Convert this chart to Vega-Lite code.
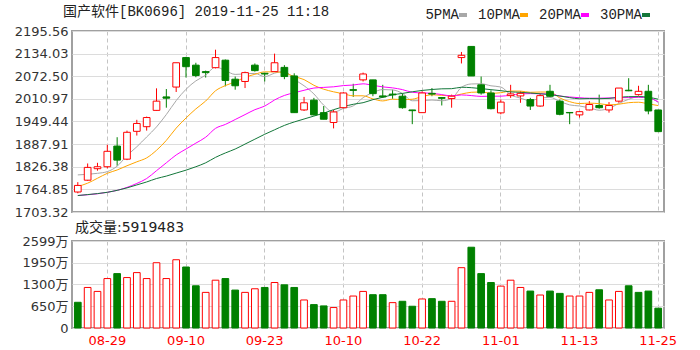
{
"$schema":"https://vega.github.io/schema/vega-lite/v6.json",
"padding":{"left":5,"top":4,"right":30,"bottom":4},
"background":"#ffffff",
"config":{"view":{"stroke":"#a0a0a0","strokeWidth":2},"axis":{"labelFont":"DejaVu Sans","labelFontSize":13,"labelColor":"#333333","ticks":false,"domain":false,"title":null,"gridColor":"#dcdcdc","labelOverlap":false},"axisY":{"labelOverlap":false},"title":{"font":"Liberation Mono, Noto Sans CJK SC","fontSize":14,"fontWeight":"normal","color":"#222222","anchor":"start","frame":"group"}},
"datasets":{"k":[
{"d":"08-26","o":1757.7,"h":1784.5,"l":1754.2,"c":1775.6,"v":768,"chg":"down","5PMA":1804.2,"10PMA":1772.9,"20PMA":1748.1,"30PMA":1748.1},
{"d":"08-27","o":1789.8,"h":1835.3,"l":1788.2,"c":1824.6,"v":1211,"chg":"up","5PMA":1805.8,"10PMA":1781.7,"20PMA":1750.2,"30PMA":1750.7},
{"d":"08-28","o":1821.1,"h":1837.1,"l":1815.7,"c":1826.4,"v":1093,"chg":"up","5PMA":1808.5,"10PMA":1795.1,"20PMA":1752.9,"30PMA":1753.4},
{"d":"08-29","o":1826.4,"h":1886.1,"l":1821.9,"c":1868.4,"v":1477,"chg":"up","5PMA":1813.1,"10PMA":1808.5,"20PMA":1756.9,"30PMA":1756.9},
{"d":"08-30","o":1882.6,"h":1906.7,"l":1829.1,"c":1844.4,"v":1625,"chg":"down","5PMA":1827.9,"10PMA":1817.6,"20PMA":1762.2,"30PMA":1762.2},
{"d":"09-02","o":1847.0,"h":1924.6,"l":1844.4,"c":1920.1,"v":1507,"chg":"up","5PMA":1856.8,"10PMA":1829.1,"20PMA":1770.3,"30PMA":1768.9},
{"d":"09-03","o":1922.7,"h":1954.0,"l":1911.2,"c":1944.1,"v":1655,"chg":"up","5PMA":1880.7,"10PMA":1839.8,"20PMA":1781.0,"30PMA":1777.0},
{"d":"09-04","o":1935.3,"h":1962.8,"l":1924.6,"c":1960.2,"v":1477,"chg":"up","5PMA":1907.4,"10PMA":1850.5,"20PMA":1794.3,"30PMA":1785.0},
{"d":"09-05","o":1979.7,"h":2039.6,"l":1979.0,"c":2004.8,"v":1950,"chg":"up","5PMA":1934.7,"10PMA":1871.1,"20PMA":1815.7,"30PMA":1794.3},
{"d":"09-06","o":2016.3,"h":2037.7,"l":1987.0,"c":2012.8,"v":1477,"chg":"up","5PMA":1968.4,"10PMA":1898.1,"20PMA":1837.1,"30PMA":1801.0},
{"d":"09-09","o":2043.1,"h":2109.2,"l":2029.7,"c":2109.2,"v":2039,"chg":"up","5PMA":2006.2,"10PMA":1931.5,"20PMA":1858.5,"30PMA":1809.1},
{"d":"09-10","o":2123.3,"h":2125.2,"l":2069.0,"c":2098.5,"v":1822,"chg":"down","5PMA":2037.1,"10PMA":1958.9,"20PMA":1874.6,"30PMA":1817.1},
{"d":"09-11","o":2102.7,"h":2109.2,"l":2069.8,"c":2074.4,"v":1261,"chg":"down","5PMA":2059.9,"10PMA":1983.7,"20PMA":1890.6,"30PMA":1826.4},
{"d":"09-12","o":2085.1,"h":2087.8,"l":2069.0,"c":2082.4,"v":1064,"chg":"up","5PMA":2075.5,"10PMA":2005.1,"20PMA":1906.7,"30PMA":1837.1},
{"d":"09-16","o":2095.8,"h":2144.7,"l":2093.9,"c":2123.3,"v":1428,"chg":"up","5PMA":2097.6,"10PMA":2033.0,"20PMA":1930.8,"30PMA":1851.9},
{"d":"09-17","o":2116.2,"h":2118.0,"l":2045.0,"c":2061.0,"v":1477,"chg":"down","5PMA":2087.9,"10PMA":2047.1,"20PMA":1941.5,"30PMA":1863.9},
{"d":"09-18","o":2064.5,"h":2071.7,"l":2035.9,"c":2046.6,"v":1133,"chg":"down","5PMA":2077.5,"10PMA":2057.3,"20PMA":1954.8,"30PMA":1874.6},
{"d":"09-19","o":2058.3,"h":2085.1,"l":2040.4,"c":2082.4,"v":1064,"chg":"up","5PMA":2079.1,"10PMA":2069.5,"20PMA":1968.2,"30PMA":1888.0},
{"d":"09-20","o":2102.7,"h":2107.3,"l":2085.1,"c":2087.8,"v":1172,"chg":"up","5PMA":2080.2,"10PMA":2077.8,"20PMA":1981.6,"30PMA":1901.3},
{"d":"09-23","o":2080.5,"h":2082.4,"l":2058.3,"c":2078.6,"v":1211,"chg":"down","5PMA":2071.3,"10PMA":2084.4,"20PMA":1991.3,"30PMA":1914.7},
{"d":"09-24","o":2085.1,"h":2134.0,"l":2085.0,"c":2109.2,"v":1359,"chg":"up","5PMA":2080.9,"10PMA":2084.4,"20PMA":2008.0,"30PMA":1926.8},
{"d":"09-25","o":2096.6,"h":2102.7,"l":2064.5,"c":2071.7,"v":1290,"chg":"down","5PMA":2085.9,"10PMA":2081.7,"20PMA":2020.3,"30PMA":1938.8},
{"d":"09-26","o":2073.3,"h":2080.5,"l":1973.5,"c":1973.5,"v":1211,"chg":"down","5PMA":2064.2,"10PMA":2071.7,"20PMA":2027.7,"30PMA":1948.2},
{"d":"09-27","o":1980.8,"h":2016.3,"l":1978.1,"c":2000.3,"v":837,"chg":"up","5PMA":2046.7,"10PMA":2063.4,"20PMA":2034.3,"30PMA":1956.2},
{"d":"09-30","o":2007.5,"h":2013.7,"l":1966.3,"c":1967.4,"v":699,"chg":"down","5PMA":2024.4,"10PMA":2047.9,"20PMA":2040.4,"30PMA":1964.2},
{"d":"10-08","o":1973.5,"h":1991.5,"l":1955.6,"c":1955.6,"v":660,"chg":"down","5PMA":1993.7,"10PMA":2037.3,"20PMA":2042.2,"30PMA":1972.2},
{"d":"10-09","o":1946.8,"h":1980.8,"l":1930.7,"c":1975.4,"v":611,"chg":"up","5PMA":1974.4,"10PMA":2030.2,"20PMA":2043.8,"30PMA":1981.6},
{"d":"10-10","o":1987.0,"h":2029.0,"l":1984.3,"c":2027.0,"v":837,"chg":"up","5PMA":1985.1,"10PMA":2024.7,"20PMA":2047.1,"30PMA":1989.6},
{"d":"10-11","o":2036.0,"h":2052.0,"l":2016.3,"c":2034.2,"v":955,"chg":"up","5PMA":1991.9,"10PMA":2019.3,"20PMA":2048.6,"30PMA":1996.3},
{"d":"10-14","o":2062.6,"h":2082.4,"l":2058.3,"c":2078.7,"v":1093,"chg":"up","5PMA":2014.2,"10PMA":2019.3,"20PMA":2051.9,"30PMA":2000.6},
{"d":"10-15","o":2062.6,"h":2062.6,"l":2018.2,"c":2025.2,"v":995,"chg":"down","5PMA":2028.1,"10PMA":2010.9,"20PMA":2047.7,"30PMA":2008.9},
{"d":"10-16","o":2019.0,"h":2049.2,"l":2013.7,"c":2016.3,"v":995,"chg":"down","5PMA":2036.3,"10PMA":2005.4,"20PMA":2043.6,"30PMA":2015.3},
{"d":"10-17","o":2024.0,"h":2036.0,"l":2011.0,"c":2022.0,"v":758,"chg":"up","5PMA":2035.3,"10PMA":2010.2,"20PMA":2040.9,"30PMA":2021.9},
{"d":"10-18","o":2018.2,"h":2027.0,"l":1984.3,"c":1987.0,"v":798,"chg":"down","5PMA":2025.8,"10PMA":2008.9,"20PMA":2036.2,"30PMA":2025.8},
{"d":"10-21","o":1980.8,"h":1981.0,"l":1942.2,"c":1978.9,"v":650,"chg":"down","5PMA":2005.9,"10PMA":2010.0,"20PMA":2028.9,"30PMA":2030.3},
{"d":"10-22","o":1973.5,"h":2031.6,"l":1973.5,"c":2027.0,"v":867,"chg":"up","5PMA":2006.2,"10PMA":2017.2,"20PMA":2027.2,"30PMA":2033.9},
{"d":"10-23","o":2026.0,"h":2040.4,"l":2018.2,"c":2024.0,"v":877,"chg":"down","5PMA":2007.8,"10PMA":2022.0,"20PMA":2026.1,"30PMA":2036.5},
{"d":"10-24","o":2014.5,"h":2014.5,"l":1993.0,"c":2012.5,"v":798,"chg":"down","5PMA":2005.9,"10PMA":2020.6,"20PMA":2022.6,"30PMA":2038.3},
{"d":"10-25","o":2011.8,"h":2022.5,"l":1987.0,"c":2018.2,"v":798,"chg":"up","5PMA":2012.1,"10PMA":2019.0,"20PMA":2019.1,"30PMA":2038.7},
{"d":"10-28","o":2123.3,"h":2138.6,"l":2107.3,"c":2129.5,"v":1802,"chg":"up","5PMA":2042.2,"10PMA":2024.1,"20PMA":2021.7,"30PMA":2042.6},
{"d":"10-29","o":2153.6,"h":2153.6,"l":2073.3,"c":2073.3,"v":2413,"chg":"down","5PMA":2051.5,"10PMA":2028.9,"20PMA":2019.9,"30PMA":2041.4},
{"d":"10-30","o":2049.2,"h":2071.7,"l":2022.5,"c":2027.0,"v":1625,"chg":"down","5PMA":2052.1,"10PMA":2029.9,"20PMA":2017.7,"30PMA":2039.0},
{"d":"10-31","o":2027.0,"h":2034.2,"l":1982.4,"c":1984.3,"v":1359,"chg":"down","5PMA":2046.5,"10PMA":2026.2,"20PMA":2018.2,"30PMA":2036.0},
{"d":"11-01","o":1972.9,"h":2009.1,"l":1969.0,"c":2002.2,"v":1251,"chg":"up","5PMA":2043.3,"10PMA":2027.7,"20PMA":2018.3,"30PMA":2033.3},
{"d":"11-04","o":2019.8,"h":2049.2,"l":2013.7,"c":2024.4,"v":1428,"chg":"up","5PMA":2022.2,"10PMA":2032.2,"20PMA":2021.1,"30PMA":2030.0},
{"d":"11-05","o":2019.0,"h":2031.6,"l":2000.3,"c":2026.0,"v":1211,"chg":"up","5PMA":2013.0,"10PMA":2032.1,"20PMA":2024.5,"30PMA":2028.8},
{"d":"11-06","o":2009.1,"h":2013.7,"l":1980.8,"c":1991.5,"v":1103,"chg":"down","5PMA":2006.0,"10PMA":2028.8,"20PMA":2025.3,"30PMA":2026.9},
{"d":"11-07","o":1991.5,"h":2025.2,"l":1989.6,"c":2019.8,"v":985,"chg":"up","5PMA":2013.0,"10PMA":2029.6,"20PMA":2024.9,"30PMA":2024.8},
{"d":"11-08","o":2031.6,"h":2049.2,"l":2016.3,"c":2018.0,"v":1103,"chg":"down","5PMA":2015.0,"10PMA":2029.5,"20PMA":2024.2,"30PMA":2022.6},
{"d":"11-11","o":2004.8,"h":2009.1,"l":1966.3,"c":1969.0,"v":1034,"chg":"down","5PMA":2004.0,"10PMA":2013.4,"20PMA":2018.7,"30PMA":2018.9},
{"d":"11-12","o":1974.0,"h":1974.5,"l":1942.2,"c":1973.0,"v":955,"chg":"up","5PMA":1994.6,"10PMA":2003.4,"20PMA":2016.1,"30PMA":2014.4},
{"d":"11-13","o":1967.4,"h":1978.1,"l":1960.2,"c":1976.2,"v":955,"chg":"up","5PMA":1991.6,"10PMA":1998.3,"20PMA":2014.1,"30PMA":2011.2},
{"d":"11-14","o":1980.8,"h":2004.8,"l":1979.7,"c":1995.7,"v":1064,"chg":"up","5PMA":1986.7,"10PMA":1999.4,"20PMA":2012.8,"30PMA":2011.9},
{"d":"11-15","o":1993.0,"h":2022.5,"l":1984.3,"c":1987.0,"v":1142,"chg":"down","5PMA":1980.2,"10PMA":1997.9,"20PMA":2012.8,"30PMA":2011.5},
{"d":"11-18","o":1980.8,"h":2002.2,"l":1973.5,"c":1993.0,"v":837,"chg":"up","5PMA":1985.0,"10PMA":1994.8,"20PMA":2013.5,"30PMA":2012.3},
{"d":"11-19","o":2004.8,"h":2040.4,"l":2000.3,"c":2040.4,"v":1093,"chg":"up","5PMA":1998.5,"10PMA":1996.5,"20PMA":2014.2,"30PMA":2015.2},
{"d":"11-20","o":2034.5,"h":2067.2,"l":2032.0,"c":2033.0,"v":1261,"chg":"down","5PMA":2009.8,"10PMA":2000.6,"20PMA":2014.5,"30PMA":2017.0},
{"d":"11-21","o":2022.5,"h":2046.6,"l":2019.8,"c":2031.5,"v":1064,"chg":"down","5PMA":2016.8,"10PMA":2001.8,"20PMA":2015.4,"30PMA":2017.2},
{"d":"11-22","o":2031.6,"h":2049.2,"l":1969.0,"c":1978.1,"v":1103,"chg":"down","5PMA":2015.3,"10PMA":1997.5,"20PMA":2013.4,"30PMA":2015.3},
{"d":"11-25","o":1980.8,"h":1980.8,"l":1921.9,"c":1921.9,"v":592,"chg":"down","5PMA":2001.0,"10PMA":1992.7,"20PMA":2003.1,"30PMA":2010.1}
]},
"vconcat":[
{
"width":592,"height":181,
"title":{"text":"国产软件[BK0696] 2019-11-25 11:18","dx":-9,"offset":6},
"data":{"name":"k"},
"encoding":{
 "x":{"field":"d","type":"ordinal","sort":null,"scale":{"type":"band","paddingInner":0.32,"paddingOuter":0.25},
  "axis":{"values":["08-29","09-10","09-23","10-10","10-22","11-01","11-13","11-25"],"labels":false,"grid":true,"gridDash":[4,3],"gridColor":"#c4c4c4","minExtent":0,"maxExtent":0}}
},
"layer":[
 {"mark":{"type":"rule","strokeWidth":1},
  "encoding":{"y":{"field":"l","type":"quantitative","scale":{"domain":[1703.32,2195.56],"nice":false,"zero":false},
    "axis":{"values":[1703.32,1764.85,1826.38,1887.91,1949.44,2010.97,2072.5,2134.03,2195.56],"format":".2f","grid":true,"labelPadding":4,"minExtent":66,"maxExtent":66,"labelOverlap":false,"labelBound":false,"labelFlush":false}},
   "y2":{"field":"h"},
   "color":{"condition":{"test":"datum.c >= datum.o","value":"#ff0000"},"value":"#008000"}}},
 {"transform":[{"fold":["5PMA","10PMA","20PMA","30PMA"],"as":["ma","val"]}],
  "mark":{"type":"line","strokeWidth":1,"interpolate":"monotone"},
  "encoding":{"y":{"field":"val","type":"quantitative",
    "axis":{"values":[1703.32,1764.85,1826.38,1887.91,1949.44,2010.97,2072.5,2134.03,2195.56],"format":".2f","grid":true,"labelPadding":4,"minExtent":66,"maxExtent":66,"labelOverlap":false,"labelBound":false,"labelFlush":false}},
   "color":{"field":"ma","type":"nominal","scale":{"domain":["5PMA","10PMA","20PMA","30PMA"],"range":["#a8a8a8","#ffa500","#ff00ff","#13773a"]},
    "legend":{"orient":"none","legendX":384,"legendY":-23,"direction":"horizontal","title":null,"symbolType":"stroke","symbolStrokeWidth":4,"symbolSize":64,"labelAlign":"right","labelOffset":-11,"columnPadding":2,"labelFont":"Liberation Mono","labelFontSize":14,"labelColor":"#222222"}}}},
 {"mark":{"type":"bar","strokeWidth":1},
  "encoding":{"y":{"field":"o","type":"quantitative",
    "axis":{"values":[1703.32,1764.85,1826.38,1887.91,1949.44,2010.97,2072.5,2134.03,2195.56],"format":".2f","grid":true,"labelPadding":4,"minExtent":66,"maxExtent":66,"labelOverlap":false,"labelBound":false,"labelFlush":false}},
   "y2":{"field":"c"},
   "fill":{"condition":{"test":"datum.c >= datum.o","value":"#ffffff"},"value":"#008000"},
   "stroke":{"condition":{"test":"datum.c >= datum.o","value":"#ff0000"},"value":"#008000"}}}
]
},
{
"width":592,"height":87,
"title":{"text":"成交量:5919483","dx":3,"offset":0,"font":"DejaVu Sans, Noto Sans CJK SC","fontSize":14},
"data":{"name":"k"},
"mark":{"type":"bar","strokeWidth":1},
"encoding":{
 "x":{"field":"d","type":"ordinal","sort":null,"scale":{"type":"band","paddingInner":0.32,"paddingOuter":0.25},
  "axis":{"values":["08-29","09-10","09-23","10-10","10-22","11-01","11-13","11-25"],"labelColor":"#ff0000","labelAngle":0,"labelPadding":6,"grid":true,"gridDash":[4,3],"gridColor":"#c4c4c4"}},
 "y":{"field":"v","type":"quantitative","scale":{"domain":[0,2599],"nice":false},
  "axis":{"values":[0,650,1300,1950,2599],"format":"d","labelExpr":"datum.value == 0 ? '0' : datum.label + '万'","grid":true,"labelPadding":4,"minExtent":66,"maxExtent":66,"labelFont":"DejaVu Sans, Noto Sans CJK SC"}},
 "fill":{"condition":{"test":"datum.chg == 'up'","value":"#ffffff"},"value":"#008000"},
 "stroke":{"condition":{"test":"datum.chg == 'up'","value":"#ff0000"},"value":"#008000"}
}
}
],
"spacing":0
}
